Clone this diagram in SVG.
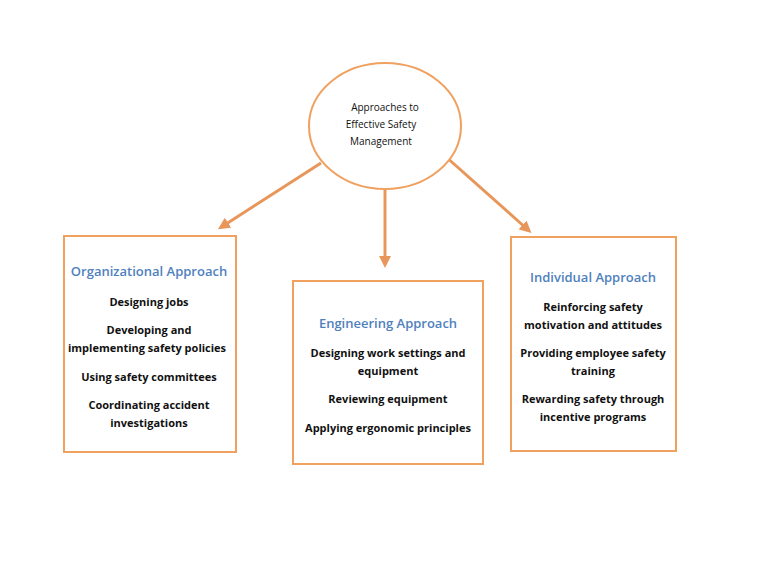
<svg xmlns="http://www.w3.org/2000/svg" width="768" height="576" viewBox="0 0 768 576">
<style>
.box{fill:#fff;stroke:#f0a160;stroke-width:2}
.t{font-family:"Open Sans","Liberation Sans",sans-serif;font-size:13px;fill:#4f81bd;font-weight:600;text-anchor:middle}
.b{font-family:"Open Sans","Liberation Sans",sans-serif;font-size:11px;font-weight:bold;fill:#111;text-anchor:middle}
.c{font-family:"Open Sans","Liberation Sans",sans-serif;font-size:10px;fill:#111;text-anchor:middle}
.a{stroke:#e8965a;stroke-width:3;fill:none;marker-end:url(#ah)}
.s{stroke:#5b8fd0;stroke-width:1;fill:none;marker-end:url(#sh)}
</style>
<defs>
<marker id="ah" markerWidth="4" markerHeight="4" refX="2" refY="2" orient="auto"><path d="M0,0L4,2L0,4z" fill="#e8965a"/></marker>
<marker id="sh" markerWidth="8" markerHeight="8" refX="7" refY="4" orient="auto" markerUnits="userSpaceOnUse"><path d="M0,0L7,4L0,8" fill="none" stroke="#5b8fd0"/></marker>
</defs>
<rect width="768" height="576" fill="#fff"/>
<g id="connectors">
<line class="a" x1="321" y1="163" x2="223" y2="226"/>
<line class="a" x1="385" y1="190" x2="385" y2="262"/>
<line class="a" x1="445" y1="156" x2="527" y2="229"/>
<line class="s" x1="539" y1="283" x2="539" y2="295"/>
<line class="s" x1="539" y1="330" x2="539" y2="342"/>
</g>
<g id="root">
<ellipse cx="385" cy="126" rx="76" ry="63" fill="#fff" stroke="#f0a160" stroke-width="2"/>
<text class="c" x="385" y="111">Approaches to</text>
<text class="c" x="381" y="128">Effective Safety</text>
<text class="c" x="381" y="145">Management</text>
</g>
<g id="org">
<rect class="box" x="64" y="236" width="172" height="216"/>
<text class="t" x="149" y="276">Organizational Approach</text>
<text class="b" x="149" y="306">Designing jobs</text>
<text class="b" x="149" y="334">Developing and</text>
<text class="b" x="147" y="352">implementing safety policies</text>
<text class="b" x="149" y="381">Using safety committees</text>
<text class="b" x="149" y="409">Coordinating accident</text>
<text class="b" x="149" y="427">investigations</text>
</g>
<g id="eng">
<rect class="box" x="293" y="281" width="190" height="183"/>
<text class="t" x="388" y="328">Engineering Approach</text>
<text class="b" x="388" y="357">Designing work settings and</text>
<text class="b" x="388" y="375">equipment</text>
<text class="b" x="388" y="403">Reviewing equipment</text>
<text class="b" x="388" y="432">Applying ergonomic principles</text>
</g>
<g id="ind">
<rect class="box" x="511" y="237" width="165" height="214"/>
<text class="t" x="593" y="282">Individual Approach</text>
<text class="b" x="593" y="311">Reinforcing safety</text>
<text class="b" x="593" y="329">motivation and attitudes</text>
<text class="b" x="593" y="357">Providing employee safety</text>
<text class="b" x="593" y="375">training</text>
<text class="b" x="593" y="403">Rewarding safety through</text>
<text class="b" x="593" y="421">incentive programs</text>
</g>
</svg>
